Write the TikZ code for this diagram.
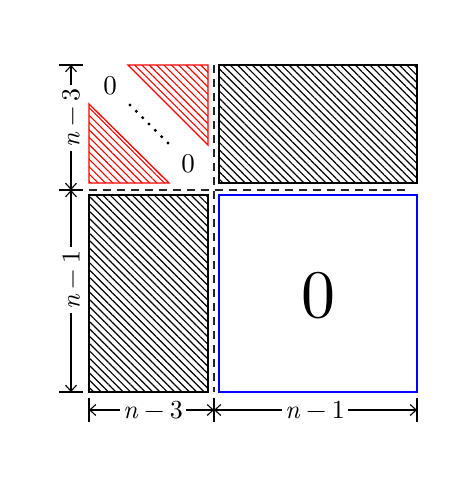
\documentclass[tikz,border=0pt]{standalone}
\usepackage{fontspec}
\setmainfont{lmroman10-regular.otf}[ItalicFont=lmroman10-italic.otf]
\usetikzlibrary{patterns.meta,arrows.meta}
\newcommand{\dimtext}[1]{\textit{n}\hspace{0.22em}−\hspace{0.22em}#1}
\begin{document}
\begin{tikzpicture}[x=1pt,y=-1pt,
  blk/.style={draw=black,line width=1.4pt,pattern={Lines[angle=-45,distance=5.2pt,line width=1.2pt]},pattern color=black},
  redtri/.style={draw=red,line width=1.3pt,pattern={Lines[angle=-45,distance=5.2pt,line width=1.1pt]},pattern color=red},
  zerobox/.style={draw=blue,line width=1.3pt},
  dsh/.style={line width=1.2pt,dash pattern=on 8pt off 6pt,draw=black!85},
  dim/.style={line width=1.1pt,{Straight Barb[length=6pt,width=11pt]}-{Straight Barb[length=6pt,width=11pt]}},
  tickmark/.style={line width=1.1pt},
  lab/.style={fill=white,inner sep=3pt,font=\fontsize{26}{31}\selectfont},
  zerolab/.style={inner sep=0pt,font=\fontsize{27}{32}\selectfont},
  bigzero/.style={inner sep=0pt,font=\fontsize{68}{78}\selectfont}]
\useasboundingbox (0,0) rectangle (474,482);
% dashed separators
\draw[dsh] (214,65) -- (214,392);
\draw[dsh] (89,190) -- (405,190);
% red triangles
\draw[redtri] (128,65) -- (208,65) -- (208,145) -- cycle;
\draw[redtri] (89,104) -- (89,183) -- (169,183) -- cycle;
\node[zerolab] (z1) at (110,86) {0};
\node[zerolab] (z2) at (188,164) {0};
\foreach \i in {0,...,6} \fill (130+\i*6.33,105+\i*6.33) circle (1.7pt);
% hatched blocks
\draw[blk] (219,65) rectangle (417,183);
\draw[blk] (89,195) rectangle (208,392);
% zero block
\draw[zerobox] (219,195) rectangle (417,392);
\node[bigzero] (z3) at (318,296) {0};
% left dimensions
\coordinate (l1) at (71,65);
\coordinate (l2) at (71,190);
\coordinate (l3) at (71,392);
\draw[tickmark] (59,65) -- (83,65);
\draw[tickmark] (59,190) -- (83,190);
\draw[tickmark] (59,392) -- (83,392);
\draw[dim] (l1) -- (l2);
\draw[dim] (l2) -- (l3);
\node[lab,rotate=90] (ln3) at (71,118) {\dimtext{3}};
\node[lab,rotate=90] (ln1) at (71,280) {\dimtext{1}};
% bottom dimensions
\coordinate (b1) at (89,410);
\coordinate (b2) at (214,410);
\coordinate (b3) at (417,410);
\draw[tickmark] (89,398) -- (89,422);
\draw[tickmark] (214,398) -- (214,422);
\draw[tickmark] (417,398) -- (417,422);
\draw[dim] (b1) -- (b2);
\draw[dim] (b2) -- (b3);
\node[lab] (bn3) at (153,410) {\dimtext{3}};
\node[lab] (bn1) at (315,410) {\dimtext{1}};
\end{tikzpicture}
\end{document}
